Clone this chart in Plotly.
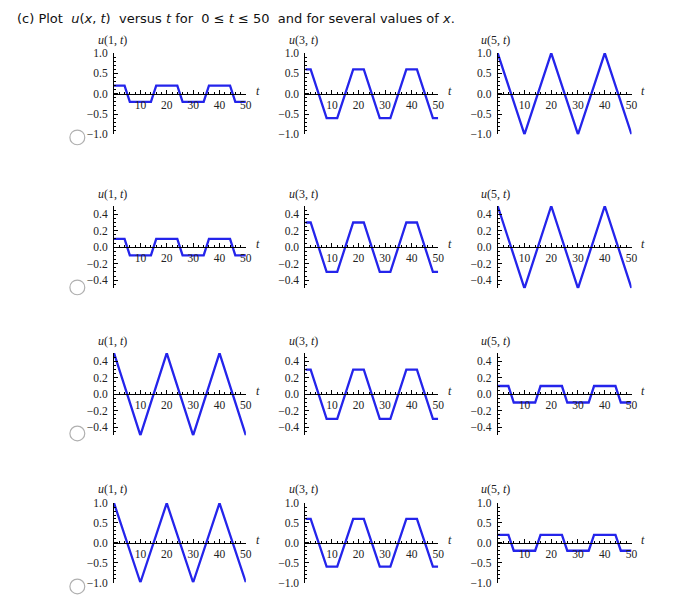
import plotly.graph_objects as go

# ---- data ----
T_NEAR = [0, 4, 6, 14, 16, 24, 26, 34, 36, 44, 46, 50]
T_MID = [0, 2, 8, 12, 18, 22, 28, 32, 38, 42, 48, 50]
T_TRI = [0, 10, 20, 30, 40, 50]

# row 1 (option A)
A_u1 = [0.2, 0.2, -0.2, -0.2, 0.2, 0.2, -0.2, -0.2, 0.2, 0.2, -0.2, -0.2]
A_u3 = [0.6, 0.6, -0.6, -0.6, 0.6, 0.6, -0.6, -0.6, 0.6, 0.6, -0.6, -0.6]
A_u5 = [1.0, -1.0, 1.0, -1.0, 1.0, -1.0]
# row 2 (option B)
B_u1 = [0.1, 0.1, -0.1, -0.1, 0.1, 0.1, -0.1, -0.1, 0.1, 0.1, -0.1, -0.1]
B_u3 = [0.3, 0.3, -0.3, -0.3, 0.3, 0.3, -0.3, -0.3, 0.3, 0.3, -0.3, -0.3]
B_u5 = [0.5, -0.5, 0.5, -0.5, 0.5, -0.5]
# row 3 (option C)
C_u1 = [0.5, -0.5, 0.5, -0.5, 0.5, -0.5]
C_u3 = [0.3, 0.3, -0.3, -0.3, 0.3, 0.3, -0.3, -0.3, 0.3, 0.3, -0.3, -0.3]
C_u5 = [0.1, 0.1, -0.1, -0.1, 0.1, 0.1, -0.1, -0.1, 0.1, 0.1, -0.1, -0.1]
# row 4 (option D)
D_u1 = [1.0, -1.0, 1.0, -1.0, 1.0, -1.0]
D_u3 = [0.6, 0.6, -0.6, -0.6, 0.6, 0.6, -0.6, -0.6, 0.6, 0.6, -0.6, -0.6]
D_u5 = [0.2, 0.2, -0.2, -0.2, 0.2, 0.2, -0.2, -0.2, 0.2, 0.2, -0.2, -0.2]

X_VALUES = [1, 3, 5]
X_TICKS = [10, 20, 30, 40, 50]
Y_TICKS_BIG = [-1.0, -0.5, 0.0, 0.5, 1.0]
Y_TICKS_SMALL = [-0.4, -0.2, 0.0, 0.2, 0.4]

rows = [
    ([(T_NEAR, A_u1), (T_MID, A_u3), (T_TRI, A_u5)], 1.0, Y_TICKS_BIG, 0.1),
    ([(T_NEAR, B_u1), (T_MID, B_u3), (T_TRI, B_u5)], 0.5, Y_TICKS_SMALL, 0.05),
    ([(T_TRI, C_u1), (T_MID, C_u3), (T_NEAR, C_u5)], 0.5, Y_TICKS_SMALL, 0.05),
    ([(T_TRI, D_u1), (T_MID, D_u3), (T_NEAR, D_u5)], 1.0, Y_TICKS_BIG, 0.1),
]

W, H = 699, 614
col_px = [(115, 248), (308, 442), (502, 637)]
row_px = [(48, 131), (204, 288), (354, 438), (507, 588)]
label_y = [35, 192, 342, 493]
radio_y = [134, 287, 436, 592]

def px_x(p):
    return p / W

def px_y(p):
    return 1 - p / H

BLUE = "rgb(36,36,235)"
SERIF = "Liberation Serif"
fig = go.Figure()
annotations = []
shapes = []
layout = {}
k = 0
for r, (panels, ymax, yticks, ymin_dt) in enumerate(rows):
    y0p, y1p = row_px[r]
    for c, (tt, uu) in enumerate(panels):
        k += 1
        sx = "" if k == 1 else str(k)
        x0p, x1p = col_px[c]
        fig.add_trace(go.Scatter(x=tt, y=uu, mode="lines",
                                 line=dict(color=BLUE, width=2.3),
                                 xaxis="x" + sx, yaxis="y" + sx,
                                 showlegend=False, hoverinfo="skip"))
        ymid = (px_y(y0p) + px_y(y1p)) / 2
        layout["xaxis" + sx] = dict(
            domain=[px_x(x0p), px_x(x1p)], range=[0, 50],
            anchor="free", position=ymid,
            tickvals=X_TICKS, ticktext=[str(v) for v in X_TICKS],
            ticks="inside", ticklen=4, tickwidth=1, tickcolor="#000",
            minor=dict(ticks="inside", ticklen=2, dtick=2, tick0=0, tickcolor="#000"),
            showline=True, linecolor="#000", linewidth=1,
            showgrid=False, zeroline=False,
            tickfont=dict(family=SERIF, size=11.5, color="#222"),
            fixedrange=True,
        )
        layout["yaxis" + sx] = dict(
            domain=[px_y(y1p), px_y(y0p)], range=[-ymax, ymax],
            anchor="x" + sx, side="left",
            tickvals=yticks,
            ticktext=[("\u2212" if v < 0 else "") + f"{abs(v):.1f}" for v in yticks],
            ticks="inside", ticklen=4, tickwidth=1, tickcolor="#000",
            minor=dict(ticks="inside", ticklen=2, dtick=ymin_dt, tick0=0, tickcolor="#000"),
            showline=True, linecolor="#000", linewidth=1,
            showgrid=False, zeroline=False,
            tickfont=dict(family=SERIF, size=11.5, color="#222"),
            ticklabelstandoff=3,
            fixedrange=True,
        )
        annotations.append(dict(
            x=px_x(x0p - 2), y=px_y(label_y[r]), xref="paper", yref="paper",
            text=f"<i>u</i>({X_VALUES[c]}, <i>t</i>)", showarrow=False,
            xanchor="center", yanchor="middle",
            font=dict(family=SERIF, size=12, color="#222")))
        annotations.append(dict(
            x=px_x(x1p + 8), y=ymid + 3 / H, xref="paper", yref="paper",
            text="<i>t</i>", showarrow=False, xanchor="left", yanchor="middle",
            font=dict(family=SERIF, size=12, color="#222")))
    cy = radio_y[r]
    shapes.append(dict(type="circle", xref="paper", yref="paper",
                       x0=px_x(70.5), x1=px_x(85.5), y0=px_y(cy + 7.5), y1=px_y(cy - 7.5),
                       line=dict(color="#b0b0b0", width=1.2), fillcolor="white"))

annotations.append(dict(
    x=px_x(15), y=px_y(13), xref="paper", yref="paper",
    text="(c) Plot  <i>u</i>(<i>x</i>, <i>t</i>)  versus <i>t</i> for  0 \u2264 <i>t</i> \u2264 50  and for several values of <i>x</i>.",
    showarrow=False, xanchor="left", yanchor="middle",
    font=dict(family="DejaVu Sans", size=13, color="#111")))

fig.update_layout(
    width=W, height=H, margin=dict(l=0, r=0, t=0, b=0),
    paper_bgcolor="white", plot_bgcolor="rgba(0,0,0,0)",
    annotations=annotations, shapes=shapes, **layout,
)
POST = (
    "document.documentElement.style.margin='0';"
    "document.documentElement.style.overflow='hidden';"
    "document.body.style.margin='0';document.body.style.padding='0';"
    "document.body.style.overflow='hidden';"
    "var gd=document.getElementById('{plot_id}');"
    "gd.style.position='absolute';gd.style.left='0px';gd.style.top='0px';"
)
fig.write_html("out.html", config={"displayModeBar": False}, post_script=POST)
